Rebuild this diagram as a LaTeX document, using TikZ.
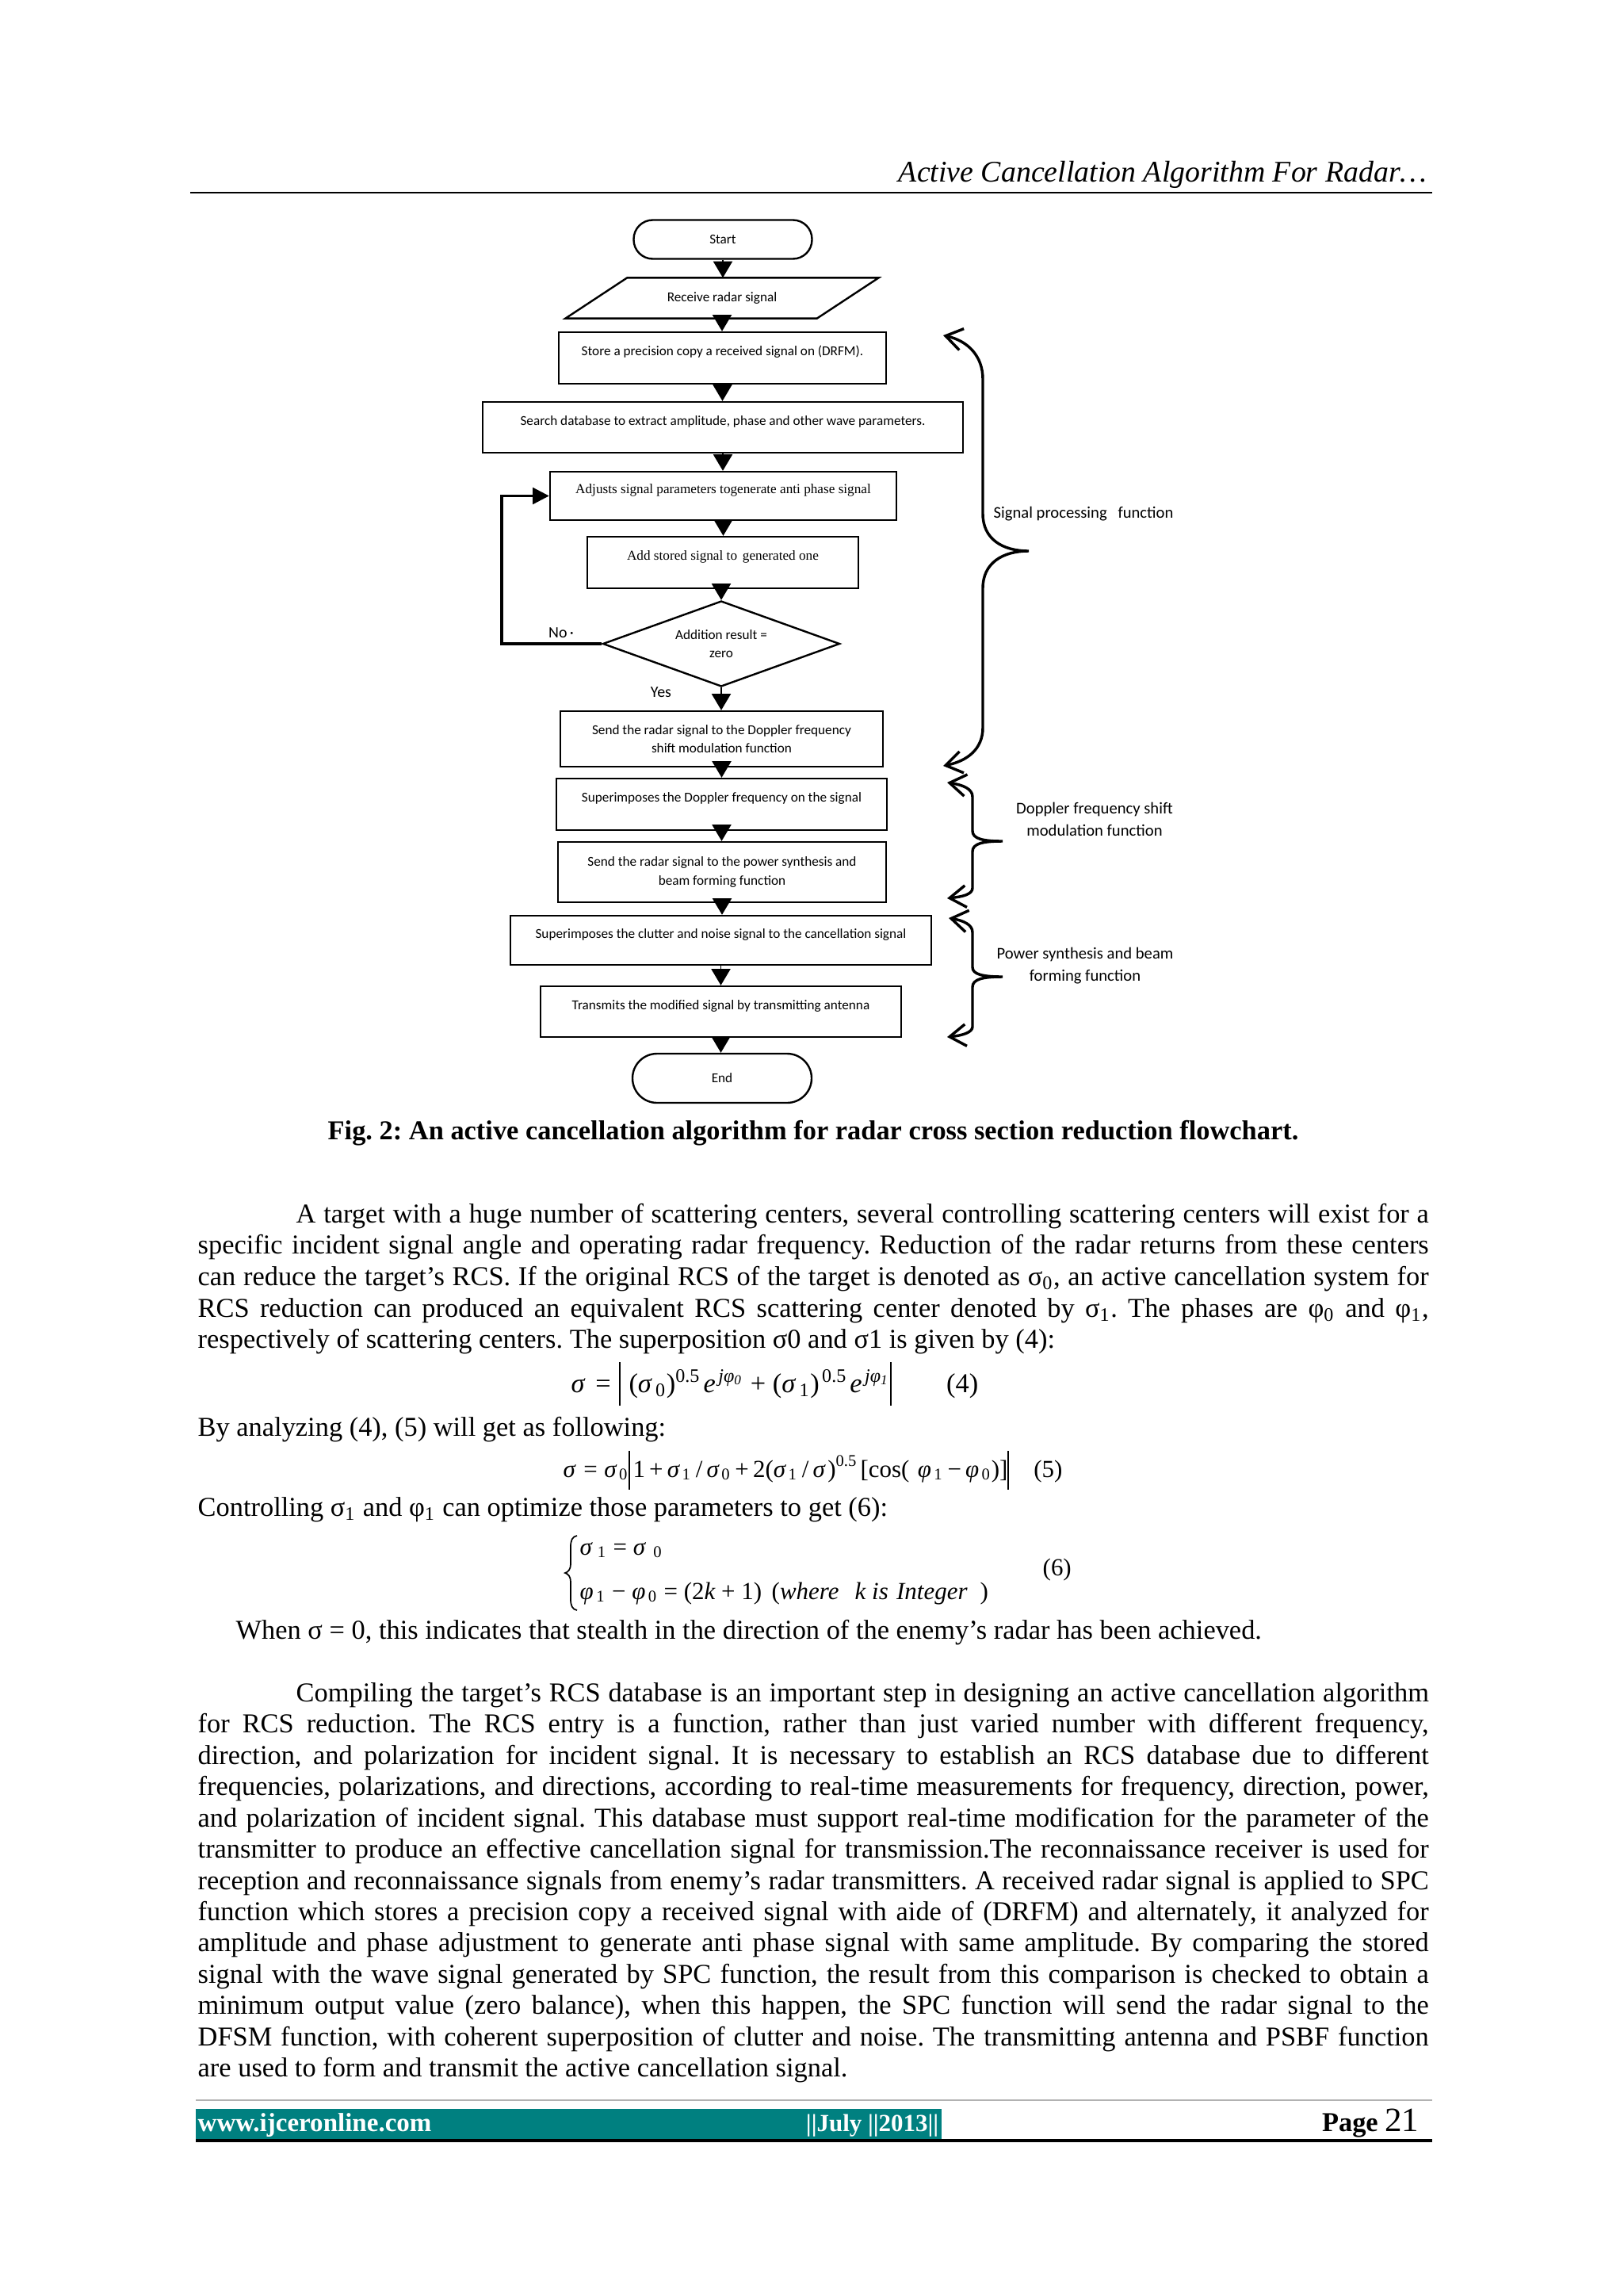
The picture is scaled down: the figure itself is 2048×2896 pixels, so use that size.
\documentclass[tikz,border=0pt]{standalone}
\usepackage{fontspec}
\setmainfont{Liberation Serif}
\newfontfamily\calfont{Carlito}
\usetikzlibrary{arrows.meta,shapes.geometric}
\definecolor{footteal}{RGB}{0,128,128}
\frenchspacing
\newcommand\pxu{0.29066pt}
\newcommand\vbarA{\rule[-5pt]{0.6pt}{16pt}}
\newcommand\vbarB{\rule[-4.5pt]{0.6pt}{14pt}}
\newcommand\bline[4]{\node[inner sep=0pt,anchor=base west] (#1) at (#2) {\makebox[#3][s]{#4}};}
\newcommand\nline[3]{\node[inner sep=0pt,anchor=base west] (#1) at (#2) {#3};}
\begin{document}
\begin{tikzpicture}[x=0.29066pt,y=-0.29066pt,
  font=\fontsize{10}{11.5}\selectfont,
  sz/.style 2 args={minimum width=#1*0.29066pt, minimum height=#2*0.29066pt},
  fbox/.style={draw, line width=0.7pt, inner sep=0pt, font=\calfont\fontsize{5}{6.7}\selectfont},
  sbox/.style={draw, line width=0.7pt, inner sep=0pt, font=\fontsize{5}{6}\selectfont},
  upper/.style={text height=3.5pt, text depth=5pt},
  twol/.style={align=center},
  arr/.style={line width=0.5pt, -{Triangle[width=7pt,length=6pt]}},
  loop/.style={line width=0.9pt, -{Triangle[width=6pt,length=6pt]}},
  brace/.style={line width=1pt, {Straight Barb[length=6pt,width=8pt]}-{Straight Barb[length=6pt,width=8pt]}},
  blab/.style={inner sep=0pt, font=\calfont\fontsize{6}{8.1}\selectfont, align=center},
  dlab/.style={inner sep=0pt, font=\calfont\fontsize{5.8}{7}\selectfont},
  eqs/.style={inner sep=0pt, anchor=base west, font=\fontsize{9}{11}\selectfont}
]
\fill[white] (0,0) rectangle (2048,2896);
\useasboundingbox (0,0) rectangle (2048,2896);

% header
\node[inner sep=0pt, anchor=base east, font=\itshape\fontsize{11}{13}\selectfont] (hdr) at (1801,229) {Active Cancellation Algorithm For Radar…};
\draw[line width=0.6pt] (240,243) -- (1807,243);

% flowchart
\node[fbox, sz={225}{49}, rounded corners=7pt] (start) at (912,302) {Start};
\node[inner sep=0pt, sz={316}{50}, font=\calfont\fontsize{5}{6.7}\selectfont] (rec) at (911,376) {Receive radar signal};
\draw[line width=0.7pt] ([xshift=39*\pxu]rec.north west) -- ([xshift=39*\pxu]rec.north east) -- ([xshift=-39*\pxu]rec.south east) -- ([xshift=-39*\pxu]rec.south west) -- cycle;
\node[fbox, upper, sz={413}{65}] (store) at (911.5,451.5) {Store a precision copy a received signal on (DRFM).};
\node[fbox, upper, sz={606}{64}] (search) at (912,539) {Search database to extract amplitude, phase and other wave parameters.};
\node[sbox, upper, sz={437}{61}] (adjust) at (912.5,625.5) {Adjusts signal parameters togenerate anti phase signal};
\node[sbox, upper, sz={342}{65}] (add) at (912,709.5) {Add stored signal to\hspace{2pt}generated one};
\node[fbox, diamond, aspect=2.77, sz={299}{108}, twol] (dec) at (910,812) {Addition result =\\zero};
\node[fbox, sz={407}{70}, twol] (send) at (910.5,932) {Send the radar signal to the Doppler frequency\\shift modulation function};
\node[fbox, upper, sz={417}{65}] (supd) at (910.5,1014.5) {Superimposes the Doppler frequency on the signal};
\node[fbox, sz={414}{76}, twol] (sendp) at (911,1100) {Send the radar signal to the power synthesis and\\beam forming function};
\node[fbox, upper, sz={531}{62}] (clut) at (909.5,1186) {Superimposes the clutter and noise signal to the cancellation signal};
\node[fbox, upper, sz={455}{64}] (trans) at (909.5,1276) {Transmits the modified signal by transmitting antenna};
\node[fbox, sz={226}{62}, rounded corners=9pt] (end) at (911,1360) {End};

\draw[arr] (start.south) -- (start.south |- rec.north);
\draw[arr] (rec.south) -- (rec.south |- store.north);
\draw[arr] (store.south) -- (store.south |- search.north);
\draw[arr] (search.south) -- (search.south |- adjust.north);
\draw[arr] (adjust.south) -- (adjust.south |- add.north);
\draw[arr] (add.south -| dec.north) -- (dec.north);
\draw[arr] (dec.south) -- (dec.south |- send.north);
\draw[arr] (send.south) -- (send.south |- supd.north);
\draw[arr] (supd.south) -- (supd.south |- sendp.north);
\draw[arr] (sendp.south) -- (sendp.south |- clut.north);
\draw[arr] (clut.south) -- (clut.south |- trans.north);
\draw[arr] (trans.south) -- (trans.south |- end.north);
\coordinate (lp) at (633,812);
\draw[loop] (dec.west) -- (lp) |- (adjust.west);
\node[dlab] (nolab) at (708,798) {No\,\textperiodcentered};
\node[dlab] (yeslab) at (834,873) {Yes};

% braces
\draw[brace] (1190,423) .. controls (1222,430) and (1240,450) .. (1240,478) -- (1240,648) .. controls (1240,680) and (1265,695) .. (1298,695) .. controls (1265,695) and (1240,710) .. (1240,742) -- (1240,918) .. controls (1240,945) and (1220,960) .. (1190,966);
\draw[brace] (1195,987) .. controls (1215,990) and (1227,995) .. (1227,1005) -- (1227,1048) .. controls (1227,1058) and (1240,1061) .. (1265,1061) .. controls (1240,1061) and (1227,1064) .. (1227,1074) -- (1227,1120) .. controls (1227,1128) and (1215,1131) .. (1195,1133);
\draw[brace] (1197,1158) .. controls (1215,1161) and (1227,1166) .. (1227,1176) -- (1227,1220) .. controls (1227,1229) and (1240,1232) .. (1265,1232) .. controls (1240,1232) and (1227,1235) .. (1227,1245) -- (1227,1295) .. controls (1227,1302) and (1215,1306) .. (1195,1308);
\node[blab, anchor=west] (lab1) at (1253,648) {Signal processing\hspace{4pt}function};
\node[blab] (lab2) at (1381,1033) {Doppler frequency shift\\modulation function};
\node[blab] (lab3) at (1369,1218) {Power synthesis and beam\\forming function};

% caption
\node[inner sep=0pt, anchor=base, font=\bfseries\fontsize{10}{12}\selectfont] (cap) at (1026,1437) {Fig. 2: An active cancellation algorithm for radar cross section reduction flowchart.};

% paragraph 1
\bline{p1}{373,1542}{415.4pt}{A target with a huge number of scattering centers, several controlling scattering centers will exist for a}
\bline{p2}{249,1581}{451.4pt}{specific incident signal angle and operating radar frequency. Reduction of the radar returns from these centers}
\bline{p3}{249,1621}{451.4pt}{can reduce the target's RCS. If the original RCS of the target is denoted as σ\textsubscript{0}, an active cancellation system for}
\bline{p4}{249,1661}{451.4pt}{RCS reduction can produced an equivalent RCS scattering center denoted by σ\textsubscript{1}. The phases are φ\textsubscript{0} and φ\textsubscript{1},}
\nline{p5}{249,1700}{respectively of scattering centers. The superposition σ0 and σ1 is given by (4):}

% equation 4
\nline{eqa}{720,1756}{{\itshape σ}\hspace{4pt}=\hspace{3pt}\vbarA\hspace{3pt}({\itshape σ}\hspace{1.5pt}\textsubscript{0})\textsuperscript{0.5}\hspace{1pt}{\itshape e}\textsuperscript{\hspace{1pt}\itshape jφ\textsubscript{0}}\hspace{2.5pt}+\hspace{2.5pt}({\itshape σ}\hspace{1.5pt}\textsubscript{1})\textsuperscript{\hspace{1pt}0.5}\hspace{1pt}{\itshape e}\textsuperscript{\hspace{1pt}\itshape jφ\textsubscript{1}}\vbarA\hspace{20pt}(4)}
\nline{p6}{249,1811}{By analyzing (4), (5) will get as following:}
% equation 5
\node[eqs] (eqb) at (710,1863) {{\itshape σ}\hspace{3pt}=\hspace{2.5pt}{\itshape σ}\hspace{1pt}\textsubscript{0}\vbarB\hspace{1pt}1\hspace{1.5pt}+\hspace{1.5pt}{\itshape σ}\hspace{1pt}\textsubscript{1}\hspace{1.5pt}/\hspace{1.5pt}{\itshape σ}\hspace{1pt}\textsubscript{0}\hspace{1.5pt}+\hspace{1.5pt}2({\itshape σ}\hspace{1pt}\textsubscript{1}\hspace{1.5pt}/\hspace{1.5pt}{\itshape σ}\hspace{1pt})\textsuperscript{0.5}\hspace{1pt}[cos(\hspace{3pt}{\itshape φ}\hspace{1pt}\textsubscript{1}\hspace{1.5pt}−\hspace{1.5pt}{\itshape φ}\hspace{1pt}\textsubscript{0})]\vbarB\hspace{9pt}(5)};
\nline{p7}{249,1912}{Controlling σ\textsubscript{1} and φ\textsubscript{1} can optimize those parameters to get (6):}
% equation 6
\draw[line width=0.5pt] (728,1937) .. controls (722,1938) and (720,1943) .. (720,1951) -- (720,1973) .. controls (720,1979) and (717,1983) .. (713,1984) .. controls (717,1985) and (720,1989) .. (720,1995) -- (720,2017) .. controls (720,2025) and (722,2030) .. (728,2031);
\node[eqs] (eqc1) at (731,1961) {{\itshape σ}\hspace{2pt}\textsubscript{1} = {\itshape σ}\hspace{3pt}\textsubscript{0}};
\node[eqs] (eqc2) at (731,2017) {{\itshape φ}\hspace{1pt}\textsubscript{1} − {\itshape φ}\hspace{1pt}\textsubscript{0} = (2{\itshape k} + 1)};
\node[eqs] (eqc2b) at (973,2017) {({\itshape where}};
\node[eqs] (eqc2c) at (1078,2017) {{\itshape k is}\hspace{3pt}{\itshape Integer}};
\node[eqs] (eqc2d) at (1236,2017) {)};
\node[eqs] (eqc3) at (1315,1987) {(6)};
\nline{p8}{297,2067}{When σ = 0, this indicates that stealth in the direction of the enemy's radar has been achieved.}

% paragraph 2
\bline{q1}{373,2146}{415.4pt}{Compiling the target's RCS database is an important step in designing an active cancellation algorithm}
\bline{q2}{249,2185}{451.4pt}{for RCS reduction. The RCS entry is a function, rather than just varied number with different frequency,}
\bline{q3}{249,2225}{451.4pt}{direction, and polarization for incident signal. It is necessary to establish an RCS database due to different}
\bline{q4}{249,2264}{451.4pt}{frequencies, polarizations, and directions, according to real-time measurements for frequency, direction, power,}
\bline{q5}{249,2304}{451.4pt}{and polarization of incident signal. This database must support real-time modification for the parameter of the}
\bline{q6}{249,2343}{451.4pt}{transmitter to produce an effective cancellation signal for transmission.The reconnaissance receiver is used for}
\bline{q7}{249,2383}{451.4pt}{reception and reconnaissance signals from enemy's radar transmitters. A received radar signal is applied to SPC}
\bline{q8}{249,2422}{451.4pt}{function which stores a precision copy a received signal with aide of (DRFM) and alternately, it analyzed for}
\bline{q9}{249,2461}{451.4pt}{amplitude and phase adjustment to generate anti phase signal with same amplitude. By comparing the stored}
\bline{q10}{249,2501}{451.4pt}{signal with the wave signal generated by SPC function, the result from this comparison is checked to obtain a}
\bline{q11}{249,2540}{451.4pt}{minimum output value (zero balance), when this happen, the SPC function will send the radar signal to the}
\bline{q12}{249,2580}{451.4pt}{DFSM function, with coherent superposition of clutter and noise. The transmitting antenna and PSBF function}
\nline{q13}{249,2619}{are used to form and transmit the active cancellation signal.}

% footer
\draw[gray!60, line width=0.6pt] (247,2649) -- (1807,2649);
\fill[footteal] (247,2660) rectangle (1188,2699);
\draw[line width=1.3pt] (247,2700) -- (1807,2700);
\node[inner sep=0pt, anchor=base west, text=white, font=\bfseries\fontsize{9.6}{12}\selectfont] (fweb) at (249,2688) {www.ijceronline.com};
\node[inner sep=0pt, anchor=base east, text=white, font=\bfseries\fontsize{9}{12}\selectfont] (fdate) at (1185,2688) {||July ||2013||};
\node[inner sep=0pt, anchor=base east] (fpage) at (1791,2688) {{\bfseries Page} {\fontsize{12.5}{14}\selectfont 21}};
\end{tikzpicture}
\end{document}
